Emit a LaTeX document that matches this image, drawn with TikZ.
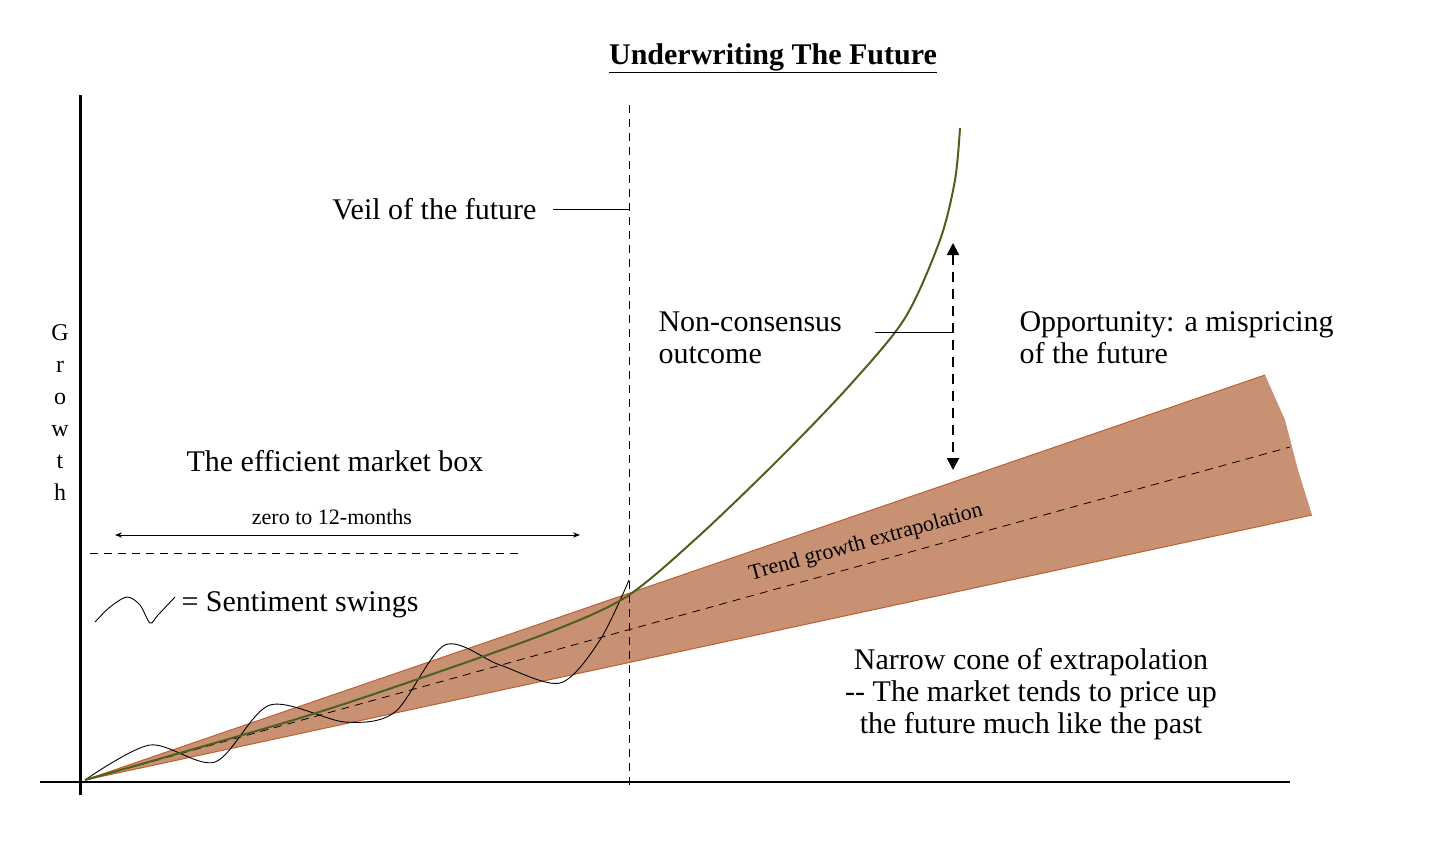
\documentclass[tikz,border=0pt]{standalone}
\usepackage{fontspec}
\setmainfont{Liberation Serif}
\usetikzlibrary{arrows.meta}
\definecolor{cone}{RGB}{201,145,115}
\definecolor{edge}{RGB}{190,95,50}
\definecolor{grn}{RGB}{80,95,30}
\tikzset{lbl/.style={font=\fontsize{30}{32}\selectfont,align=left},
 cen/.style={font=\fontsize{30}{32}\selectfont,align=center},
 ldash/.style={dash pattern=on 8pt off 6pt}}
\begin{document}
\begin{tikzpicture}[x=1pt,y=-1pt]
\useasboundingbox (0,0) rectangle (1440,852);
% cone
\fill[cone] (85,780) -- (1265,375) -- (1285,420) -- (1298,470) -- (1312,515) -- cycle;
\draw[edge,line width=1pt] (85,780) -- (1265,375);
\draw[edge,line width=1pt] (85,780) -- (1312,515);
\draw[ldash,line width=0.8pt] (85,780) -- (1290,447);
\node[font=\fontsize{22}{24}\selectfont,rotate=15.4] (trend) at (866,543) {Trend growth extrapolation};
% axes
\draw[line width=3pt] (80,95) -- (80,795);
\draw[line width=2.5pt] (40,782) -- (1290,782);
\node[font=\fontsize{24}{32}\selectfont,align=center] (g) at (60,413) {G\\r\\o\\w\\t\\h};
% veil
\draw[ldash,line width=0.9pt] (629,105) -- (629,785);
\node[lbl,anchor=east] (veil) at (540,209) {Veil of the future};
\draw[line width=0.9pt] (553,209) -- (629,209);
% efficient box
\node[lbl] (box) at (335,461) {The efficient market box};
\node[font=\fontsize{22}{24}\selectfont] (zero) at (332,517) {zero to 12-months};
\draw[{Stealth}-{Stealth},line width=0.9pt] (115,535) -- (580,535);
\draw[ldash,line width=0.9pt] (90,553) -- (520,553);
% legend wave
\draw[line width=0.9pt] plot[smooth] coordinates {(95,622) (110,607) (127,597) (140,605) (150,623) (158,615) (175,597)};
\node[lbl,anchor=west] (sent) at (178,605) {= Sentiment swings};
% wave
\draw[line width=0.9pt] plot[smooth] coordinates {(85,780) (150,745) (215,762) (270,705) (345,722) (395,712) (445,645) (500,665) (560,683) (600,640) (629,580)};
% green curve
\draw[grn,line width=2pt] plot[smooth] coordinates {(85,780) (300,718) (450,668) (560,628) (629,595) (700,535) (780,458) (850,385) (905,318) (940,240) (955,180) (960,128)};
% arrow
\draw[dashed,dash pattern=on 10pt off 7pt,line width=2pt,{Triangle[length=12pt,width=12pt]}-{Triangle[length=12pt,width=12pt]}] (953,243) -- (953,470);
\node[lbl,anchor=west] (nc) at (655,338) {Non-consensus\\outcome};
\draw[line width=0.9pt] (875,332) -- (953,332);
\node[lbl,anchor=west] (opp) at (1016,338) {Opportunity: a mispricing\\of the future};
\node[cen] (narrow) at (1031,694) {Narrow cone of extrapolation\\{-}{-} The market tends to price up\\the future much like the past};
% title
\node[font=\fontsize{30}{32}\selectfont\bfseries] (title) at (773,58) {\underline{Underwriting The Future}};
\end{tikzpicture}
\end{document}
